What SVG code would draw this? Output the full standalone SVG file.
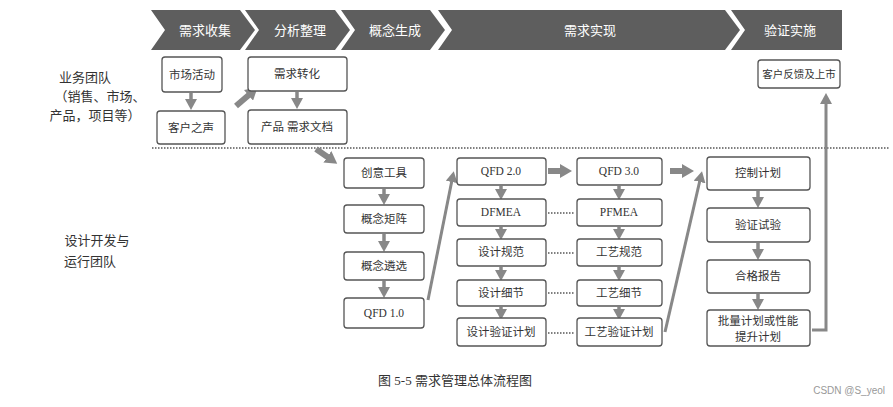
<svg xmlns="http://www.w3.org/2000/svg" width="893" height="407" viewBox="0 0 893 407">
<style>
.bg{fill:#fff}
.ch{fill:#5e5e5e}
.ht{font-family:"Liberation Serif","Noto Sans CJK SC",serif;font-size:13px;fill:#fff;text-anchor:middle}
.b rect{fill:#fff;stroke:#555;stroke-width:1.3}
.b text,.t{font-family:"Liberation Serif","Noto Sans CJK SC",serif;font-size:11.5px;fill:#333;text-anchor:middle}
.lb{font-family:"Liberation Serif","Noto Sans CJK SC",serif;font-size:13px;fill:#333;text-anchor:middle}
.a{stroke:#888;stroke-width:6;fill:none;marker-end:url(#h)}
.as{stroke:#888;stroke-width:3.5;fill:none;marker-end:url(#h2)}
.d{stroke:#555;stroke-width:1.3;stroke-dasharray:1.5 1.5;fill:none}
</style>
<defs>
<marker id="h" markerUnits="userSpaceOnUse" markerWidth="14" markerHeight="14" refX="2" refY="7" orient="auto"><path d="M0,0 L12,7 L0,14 z" fill="#888"/></marker>
<marker id="h2" markerUnits="userSpaceOnUse" markerWidth="12" markerHeight="12" refX="2" refY="6" orient="auto"><path d="M0,0 L11,6 L0,12 z" fill="#888"/></marker>
</defs>
<rect class="bg" width="893" height="407"/>
<g id="header">
<polygon class="ch" points="151,10 240,10 255,30 240,50 151,50 165,30"/>
<polygon class="ch" points="245,10 335,10 350,30 335,50 245,50 259,30"/>
<polygon class="ch" points="341,10 430,10 445,30 430,50 341,50 355,30"/>
<polygon class="ch" points="438,10 725,10 740,30 725,50 438,50 452,30"/>
<polygon class="ch" points="731,10 842,10 842,50 731,50 745,30"/>
<text class="ht" x="205" y="35">需求收集</text>
<text class="ht" x="300" y="35">分析整理</text>
<text class="ht" x="395" y="35">概念生成</text>
<text class="ht" x="590" y="35">需求实现</text>
<text class="ht" x="790" y="35">验证实施</text>
</g>
<g id="labels">
<text class="lb" x="85" y="82">业务团队</text>
<text class="lb" x="100" y="101">（销售、市场、</text>
<text class="lb" x="95" y="120">产品，项目等）</text>
<text class="lb" x="97" y="245">设计开发与</text>
<text class="lb" x="90" y="266">运行团队</text>
</g>
<line x1="152" y1="148" x2="890" y2="148" class="d"/>
<g id="connectors">
<line class="as" x1="191" y1="93" x2="191" y2="101"/>
<line class="as" x1="297" y1="92" x2="297" y2="100"/>
<line class="a" x1="236" y1="106" x2="250" y2="94"/>
<line class="a" x1="316" y1="149" x2="329" y2="158"/>
<line class="as" x1="384" y1="189" x2="384" y2="196"/>
<line class="as" x1="384" y1="234" x2="384" y2="243"/>
<line class="as" x1="384" y1="281" x2="384" y2="289"/>
<line class="as" x1="428" y1="300" x2="452" y2="180" style="stroke-width:3"/>
<line class="as" x1="501" y1="186" x2="501" y2="191"/>
<line class="as" x1="501" y1="227" x2="501" y2="231"/>
<line class="as" x1="501" y1="267" x2="501" y2="272"/>
<line class="as" x1="501" y1="307" x2="501" y2="311"/>
<line class="as" x1="619" y1="186" x2="619" y2="191"/>
<line class="as" x1="619" y1="227" x2="619" y2="231"/>
<line class="as" x1="619" y1="267" x2="619" y2="272"/>
<line class="as" x1="619" y1="307" x2="619" y2="311"/>
<line class="a" x1="548" y1="171" x2="562" y2="171"/>
<line class="a" x1="670" y1="171" x2="684" y2="171"/>
<line class="as" x1="665" y1="332" x2="700" y2="180" style="stroke-width:3"/>
<line class="as" x1="758" y1="191" x2="758" y2="199"/>
<line class="as" x1="758" y1="243" x2="758" y2="251"/>
<line class="as" x1="758" y1="294" x2="758" y2="301"/>
<path class="as" d="M812,330 H826 V102" style="stroke-width:3"/>
<line class="d" x1="548" y1="213" x2="575" y2="213"/>
<line class="d" x1="548" y1="253" x2="575" y2="253"/>
<line class="d" x1="548" y1="293" x2="575" y2="293"/>
<line class="d" x1="548" y1="333" x2="575" y2="333"/>
</g>
<g id="n1" class="b"><rect x="162" y="57" width="60" height="35" rx="3"/><text x="192" y="79">市场活动</text></g>
<g id="n2" class="b"><rect x="157" y="111" width="68" height="33" rx="3"/><text x="191" y="132">客户之声</text></g>
<g id="n3" class="b"><rect x="248" y="57" width="99" height="34" rx="3"/><text x="297" y="78">需求转化</text></g>
<g id="n4" class="b"><rect x="248" y="110" width="99" height="34" rx="3"/><text x="297" y="131">产品 需求文档</text></g>
<g id="n5" class="b"><rect x="758" y="60" width="82" height="28" rx="3"/><text x="799" y="78" style="font-size:10.5px">客户反馈及上市</text></g>
<g id="n6" class="b"><rect x="344" y="158" width="80" height="30" rx="3"/><text x="384" y="177">创意工具</text></g>
<g id="n7" class="b"><rect x="344" y="205" width="80" height="28" rx="3"/><text x="384" y="223">概念矩阵</text></g>
<g id="n8" class="b"><rect x="344" y="252" width="80" height="28" rx="3"/><text x="384" y="270">概念遴选</text></g>
<g id="n9" class="b"><rect x="344" y="298" width="80" height="30" rx="3"/><text x="384" y="317">QFD 1.0</text></g>
<g id="n10" class="b"><rect x="457" y="158" width="89" height="27" rx="3"/><text x="501" y="175">QFD 2.0</text></g>
<g id="n11" class="b"><rect x="457" y="199" width="89" height="27" rx="3"/><text x="501" y="216">DFMEA</text></g>
<g id="n12" class="b"><rect x="457" y="239" width="89" height="27" rx="3"/><text x="501" y="256">设计规范</text></g>
<g id="n13" class="b"><rect x="457" y="280" width="89" height="26" rx="3"/><text x="501" y="297">设计细节</text></g>
<g id="n14" class="b"><rect x="457" y="318" width="89" height="28" rx="3"/><text x="501" y="336">设计验证计划</text></g>
<g id="n15" class="b"><rect x="577" y="158" width="85" height="27" rx="3"/><text x="619" y="175">QFD 3.0</text></g>
<g id="n16" class="b"><rect x="577" y="199" width="85" height="27" rx="3"/><text x="619" y="216">PFMEA</text></g>
<g id="n17" class="b"><rect x="577" y="239" width="85" height="27" rx="3"/><text x="619" y="256">工艺规范</text></g>
<g id="n18" class="b"><rect x="577" y="280" width="85" height="26" rx="3"/><text x="619" y="297">工艺细节</text></g>
<g id="n19" class="b"><rect x="577" y="318" width="85" height="28" rx="3"/><text x="619" y="336">工艺验证计划</text></g>
<g id="n20" class="b"><rect x="707" y="157" width="103" height="33" rx="3"/><text x="758" y="177">控制计划</text></g>
<g id="n21" class="b"><rect x="707" y="208" width="103" height="34" rx="3"/><text x="758" y="229">验证试验</text></g>
<g id="n22" class="b"><rect x="707" y="260" width="103" height="33" rx="3"/><text x="758" y="280">合格报告</text></g>
<g id="n23" class="b"><rect x="707" y="310" width="103" height="36" rx="3"/><text x="758" y="325">批量计划或性能</text><text x="758" y="341">提升计划</text></g>
<text class="t" x="455" y="385" style="font-size:13px">图 5-5   需求管理总体流程图</text>
<text x="885" y="394" style="font-family:'Liberation Sans',sans-serif;font-size:10px;fill:#999;text-anchor:end">CSDN @S_yeol</text>
</svg>
